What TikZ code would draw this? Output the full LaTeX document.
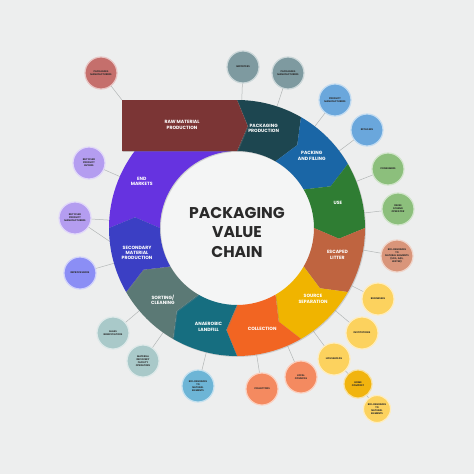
\documentclass[tikz,border=0pt]{standalone}
\usepackage{fontspec}
\setmainfont{Poppins}
\usetikzlibrary{calc,shadows}
\definecolor{bg}{HTML}{EDEEEE}
\definecolor{inner}{HTML}{F4F5F5}
\definecolor{cRaw}{HTML}{7B3535}
\definecolor{cPkgProd}{HTML}{1D4650}
\definecolor{cPacking}{HTML}{1A66A6}
\definecolor{cUse}{HTML}{2F7D33}
\definecolor{cLitter}{HTML}{BF6440}
\definecolor{cSource}{HTML}{F0B400}
\definecolor{cCollect}{HTML}{F26522}
\definecolor{cLandfill}{HTML}{166E80}
\definecolor{cSort}{HTML}{5B7975}
\definecolor{cSecond}{HTML}{3B3FC4}
\definecolor{cEnd}{HTML}{6633E0}
\definecolor{bRose}{HTML}{C56F6C}
\definecolor{bGrey}{HTML}{7E9AA0}
\definecolor{bBlue}{HTML}{6AA7DC}
\definecolor{bGreen}{HTML}{8CBF7C}
\definecolor{bSalmon}{HTML}{D9957A}
\definecolor{bYellow}{HTML}{FCD25E}
\definecolor{bGold}{HTML}{F1B40F}
\definecolor{bOrange}{HTML}{F48A60}
\definecolor{bSky}{HTML}{6DB5D6}
\definecolor{bPale}{HTML}{A9C9C9}
\definecolor{bIndigo}{HTML}{8B8EF5}
\definecolor{bLav}{HTML}{B49DF0}
\definecolor{conn}{HTML}{B3B7B7}
\definecolor{ink}{HTML}{2A2A2A}
\newcommand\ringseg[3]{%
  \pgfmathsetmacro\pa{#3-6}\pgfmathsetmacro\pb{#2-6}%
  \fill[#1,segsh] (#2:128) arc[start angle=#2,end angle=#3,radius=128]
    -- (\pa:102.5) -- (#3:77) arc[start angle=#3,end angle=#2,radius=77]
    -- (\pb:102.5) -- cycle;}
\begin{document}
\begin{tikzpicture}[x=1pt,y=1pt,
  segsh/.style={drop shadow={opacity=0.3,shadow xshift=0.9pt,shadow yshift=-0.9pt}},
  lbl/.style={text=white,align=center,font=\fontsize{4.6}{5.4}\selectfont\bfseries,inner sep=0pt},
  bub/.style={circle,minimum size=32pt,inner sep=0pt,align=center,line width=1.2pt,
    fill=#1,draw=#1!40!white,text=ink,font=\fontsize{2.4}{3}\selectfont\bfseries},
  cline/.style={draw=conn,line width=0.5pt}]
\fill[bg] (0,0) rectangle (474,-474);
\useasboundingbox (0,0) rectangle (474,-474);
\begin{scope}[shift={(237,-228)}]
  % bubbles
  \node[bub=bRose]   (b1)  at (-136,155) {PACKAGING\\MANUFACTURERS};
  \node[bub=bGrey]   (b2)  at (6,161)    {IMPORTERS};
  \node[bub=bGrey]   (b3)  at (51,155)   {PACKAGING\\MANUFACTURERS};
  \node[bub=bBlue]   (b4)  at (98,128)   {PRODUCT\\MANUFACTURERS};
  \node[bub=bBlue]   (b5)  at (130,98)   {RETAILERS};
  \node[bub=bGreen]  (b6)  at (151,59)   {CONSUMERS};
  \node[bub=bGreen]  (b7)  at (161,19)   {REUSE\\SCHEME\\OPERATOR};
  \node[bub=bSalmon] (b8)  at (160,-28)  {BIO-DEGRADES\\TO\\NATURAL ELEMENTS\\(SOIL, GAS,\\WATER)};
  \node[bub=bYellow] (b9)  at (141,-71)  {BUSINESSES};
  \node[bub=bYellow] (b10) at (125,-105) {INSTITUTIONS};
  \node[bub=bYellow] (b11) at (97,-131)  {HOUSEHOLDS};
  \node[bub=bGold,minimum size=28pt]   (b12) at (121,-156) {HOME\\COMPOST};
  \node[bub=bYellow,minimum size=27pt] (b13) at (140,-181) {BIO-DEGRADES\\TO\\NATURAL\\ELEMENTS};
  \node[bub=bOrange] (b14) at (64,-149)  {LOCAL\\COUNCILS};
  \node[bub=bOrange] (b15) at (25,-161)  {COLLECTORS};
  \node[bub=bSky]    (b16) at (-39,-158) {BIO-DEGRADES\\TO\\NATURAL\\ELEMENTS};
  \node[bub=bPale]   (b17) at (-94,-133) {MATERIAL\\RECOVERY\\FACILITY\\OPERATORS};
  \node[bub=bPale]   (b18) at (-124,-105){GLASS\\BENEFICIATORS};
  \node[bub=bIndigo] (b19) at (-157,-45) {REPROCESSORS};
  \node[bub=bLav]    (b20) at (-162,10)  {RECYCLED\\PRODUCT\\MANUFACTURERS};
  \node[bub=bLav]    (b21) at (-148,65)  {RECYCLED\\PRODUCT\\BUYERS};
  % connector end points on the ring
  \coordinate (ctr) at (0,0);
  \coordinate (rawtl) at (-115,128);
  \foreach \i in {2,...,11,14,15,16,17,18,19,20,21}{
    \coordinate (e\i) at ($(ctr)!128pt!(b\i)$);}
  \coordinate (e20b) at (186:128);
  % connectors
  \draw[cline] (b1) -- (rawtl);
  \foreach \i in {2,...,11,14,15,16,17,18,19,20,21}{
    \draw[cline] (b\i) -- (e\i);}
  \draw[cline] (b20) -- (e20b);
  \draw[cline] (b11) -- (b12);
  \draw[cline] (b12) -- (b13);
  % inner disc
  \fill[inner] (0,0) circle (77);
  % ring segments
  \ringseg{cEnd}{180}{95}
  \ringseg{cPkgProd}{90}{60}
  \ringseg{cPacking}{60}{30}
  \ringseg{cUse}{30}{0}
  \ringseg{cLitter}{0}{-30}
  \ringseg{cSource}{-30}{-60}
  \ringseg{cCollect}{-60}{-90}
  \ringseg{cLandfill}{-90}{-120}
  \ringseg{cSort}{-120}{-150}
  \ringseg{cSecond}{-150}{-180}
  \fill[cRaw,segsh] (-115,128) -- (0,128) -- (10.7,101.9) -- (0,77) -- (-115,77) -- cycle;
  % labels
  \node[lbl] (lRaw)   at (-55,103)  {RAW MATERIAL\\PRODUCTION};
  \node[lbl] (lPkg)   at (75:103)   {PACKAGING\\PRODUCTION};
  \node[lbl] (lPack)  at (44:104)   {PACKING\\AND FILLING};
  \node[lbl] (lUse)   at (14:104)   {USE};
  \node[lbl] (lLit)   at (-15:104)  {ESCAPED\\LITTER};
  \node[lbl] (lSrc)   at (-43:104)  {SOURCE\\SEPARATION};
  \node[lbl] (lCol)   at (-76:104)  {COLLECTION};
  \node[lbl] (lLand)  at (-106:103) {ANAEROBIC\\LANDFILL};
  \node[lbl] (lSort)  at (-136:103) {SORTING/\\CLEANING};
  \node[lbl] (lSec)   at (-166:103) {SECONDARY\\MATERIAL\\PRODUCTION};
  \node[lbl] (lEnd)   at (154:106)  {END\\MARKETS};
  \node[text=ink,align=center,font=\fontsize{15.6}{19.5}\selectfont\bfseries] (title) at (0,-4) {PACKAGING\\VALUE\\CHAIN};
\end{scope}
\end{tikzpicture}
\end{document}
